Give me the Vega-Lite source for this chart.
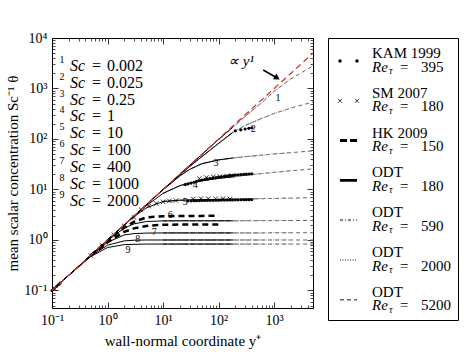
{
  "$schema": "https://vega.github.io/schema/vega-lite/v6.json",
  "background": "white",
  "padding": {"left": 5, "top": 30, "right": 5, "bottom": 5},
  "config": {
    "view": {"stroke": "black", "strokeWidth": 1},
    "font": "Liberation Serif"
  },
  "datasets": {
    "curves": [
      {"sc":1,"x":0.1,"y":0.1},{"sc":1,"x":0.2,"y":0.2},{"sc":1,"x":0.5,"y":0.5},{"sc":1,"x":1,"y":1},{"sc":1,"x":2,"y":2},{"sc":1,"x":3,"y":3},{"sc":1,"x":5,"y":5},{"sc":1,"x":10,"y":10},{"sc":1,"x":20,"y":20},{"sc":1,"x":30,"y":30},{"sc":1,"x":50,"y":49.5},{"sc":1,"x":100,"y":98},{"sc":1,"x":180,"y":172},{"sc":1,"x":300,"y":280},{"sc":1,"x":590,"y":520},{"sc":1,"x":1000,"y":880},{"sc":1,"x":2000,"y":1550},{"sc":1,"x":5000,"y":2800},
      {"sc":2,"x":0.1,"y":0.1},{"sc":2,"x":0.2,"y":0.2},{"sc":2,"x":0.5,"y":0.5},{"sc":2,"x":1,"y":1},{"sc":2,"x":2,"y":2},{"sc":2,"x":3,"y":3},{"sc":2,"x":5,"y":5},{"sc":2,"x":10,"y":10},{"sc":2,"x":20,"y":19.5},{"sc":2,"x":30,"y":28.5},{"sc":2,"x":50,"y":45},{"sc":2,"x":100,"y":82},{"sc":2,"x":180,"y":135},{"sc":2,"x":300,"y":185},{"sc":2,"x":590,"y":255},{"sc":2,"x":1000,"y":320},{"sc":2,"x":2000,"y":410},{"sc":2,"x":5000,"y":540},
      {"sc":3,"x":0.1,"y":0.1},{"sc":3,"x":0.2,"y":0.2},{"sc":3,"x":0.5,"y":0.5},{"sc":3,"x":1,"y":1},{"sc":3,"x":2,"y":2},{"sc":3,"x":3,"y":3},{"sc":3,"x":5,"y":4.99},{"sc":3,"x":10,"y":9.86},{"sc":3,"x":20,"y":18.6},{"sc":3,"x":30,"y":25},{"sc":3,"x":50,"y":32.4},{"sc":3,"x":100,"y":38.6},{"sc":3,"x":180,"y":42},{"sc":3,"x":300,"y":44.6},{"sc":3,"x":590,"y":47.8},{"sc":3,"x":1000,"y":50.4},{"sc":3,"x":2000,"y":53.7},{"sc":3,"x":5000,"y":58.1},
      {"sc":4,"x":0.1,"y":0.1},{"sc":4,"x":0.2,"y":0.2},{"sc":4,"x":0.5,"y":0.5},{"sc":4,"x":1,"y":1},{"sc":4,"x":2,"y":1.98},{"sc":4,"x":3,"y":2.94},{"sc":4,"x":5,"y":4.79},{"sc":4,"x":10,"y":8.39},{"sc":4,"x":20,"y":11.9},{"sc":4,"x":30,"y":13.4},{"sc":4,"x":50,"y":14.9},{"sc":4,"x":100,"y":16.6},{"sc":4,"x":180,"y":17.9},{"sc":4,"x":300,"y":19.1},{"sc":4,"x":590,"y":20.7},{"sc":4,"x":1000,"y":21.9},{"sc":4,"x":2000,"y":23.5},{"sc":4,"x":5000,"y":25.6},
      {"sc":5,"x":0.1,"y":0.1},{"sc":5,"x":0.2,"y":0.2},{"sc":5,"x":0.5,"y":0.5},{"sc":5,"x":1,"y":1},{"sc":5,"x":2,"y":1.98},{"sc":5,"x":3,"y":2.89},{"sc":5,"x":5,"y":4.34},{"sc":5,"x":10,"y":5.78},{"sc":5,"x":20,"y":6.14},{"sc":5,"x":30,"y":6.2},{"sc":5,"x":50,"y":6.25},{"sc":5,"x":100,"y":6.35},{"sc":5,"x":180,"y":6.42},{"sc":5,"x":300,"y":6.5},{"sc":5,"x":590,"y":6.58},{"sc":5,"x":1000,"y":6.65},{"sc":5,"x":2000,"y":6.75},{"sc":5,"x":5000,"y":6.9},
      {"sc":6,"x":0.1,"y":0.1},{"sc":6,"x":0.2,"y":0.2},{"sc":6,"x":0.5,"y":0.5},{"sc":6,"x":1,"y":0.98},{"sc":6,"x":2,"y":1.72},{"sc":6,"x":3,"y":2.09},{"sc":6,"x":5,"y":2.32},{"sc":6,"x":10,"y":2.39},{"sc":6,"x":20,"y":2.4},{"sc":6,"x":30,"y":2.4},{"sc":6,"x":50,"y":2.4},{"sc":6,"x":100,"y":2.4},{"sc":6,"x":180,"y":2.4},{"sc":6,"x":300,"y":2.41},{"sc":6,"x":590,"y":2.42},{"sc":6,"x":1000,"y":2.42},{"sc":6,"x":2000,"y":2.43},{"sc":6,"x":5000,"y":2.44},
      {"sc":7,"x":0.1,"y":0.1},{"sc":7,"x":0.2,"y":0.2},{"sc":7,"x":0.5,"y":0.49},{"sc":7,"x":1,"y":0.9},{"sc":7,"x":2,"y":1.26},{"sc":7,"x":3,"y":1.34},{"sc":7,"x":5,"y":1.37},{"sc":7,"x":10,"y":1.38},{"sc":7,"x":20,"y":1.38},{"sc":7,"x":30,"y":1.38},{"sc":7,"x":50,"y":1.38},{"sc":7,"x":100,"y":1.38},{"sc":7,"x":180,"y":1.38},{"sc":7,"x":300,"y":1.38},{"sc":7,"x":590,"y":1.38},{"sc":7,"x":1000,"y":1.39},{"sc":7,"x":2000,"y":1.39},{"sc":7,"x":5000,"y":1.39},
      {"sc":8,"x":0.1,"y":0.1},{"sc":8,"x":0.2,"y":0.2},{"sc":8,"x":0.5,"y":0.48},{"sc":8,"x":1,"y":0.79},{"sc":8,"x":2,"y":0.96},{"sc":8,"x":3,"y":0.99},{"sc":8,"x":5,"y":1},{"sc":8,"x":10,"y":1},{"sc":8,"x":20,"y":1},{"sc":8,"x":30,"y":1},{"sc":8,"x":50,"y":1},{"sc":8,"x":100,"y":1},{"sc":8,"x":180,"y":1},{"sc":8,"x":300,"y":1},{"sc":8,"x":590,"y":1},{"sc":8,"x":1000,"y":1},{"sc":8,"x":2000,"y":1},{"sc":8,"x":5000,"y":1},
      {"sc":9,"x":0.1,"y":0.1},{"sc":9,"x":0.2,"y":0.2},{"sc":9,"x":0.5,"y":0.47},{"sc":9,"x":1,"y":0.71},{"sc":9,"x":2,"y":0.81},{"sc":9,"x":3,"y":0.82},{"sc":9,"x":5,"y":0.83},{"sc":9,"x":10,"y":0.83},{"sc":9,"x":20,"y":0.83},{"sc":9,"x":30,"y":0.83},{"sc":9,"x":50,"y":0.83},{"sc":9,"x":100,"y":0.83},{"sc":9,"x":180,"y":0.83},{"sc":9,"x":300,"y":0.83},{"sc":9,"x":590,"y":0.83},{"sc":9,"x":1000,"y":0.83},{"sc":9,"x":2000,"y":0.83},{"sc":9,"x":5000,"y":0.83}
    ],
    "kam": [
      {"x":0.1,"y":0.1},{"x":0.11,"y":0.11},{"x":0.12,"y":0.12},{"x":0.13,"y":0.13},{"x":0.14,"y":0.14},
      {"x":200,"y":145},{"x":250,"y":152},{"x":300,"y":158},{"x":350,"y":163},{"x":395,"y":167},
      {"x":25,"y":12.5},{"x":28,"y":12.9},{"x":32,"y":13.4},{"x":36,"y":13.9},{"x":40,"y":14.5},{"x":45,"y":14.9},{"x":50,"y":15.4},{"x":56,"y":15.8},{"x":63,"y":16.2},{"x":71,"y":16.6},{"x":80,"y":17},{"x":90,"y":17.3},{"x":100,"y":17.6},{"x":112,"y":17.9},{"x":126,"y":18.2},{"x":141,"y":18.5},{"x":158,"y":18.8},{"x":178,"y":19.05},{"x":200,"y":19.3},{"x":224,"y":19.5},{"x":251,"y":19.7},{"x":282,"y":19.9},{"x":316,"y":20.1},{"x":355,"y":20.25},{"x":395,"y":20.4},
      {"x":28,"y":5.93},{"x":32,"y":5.96},{"x":36,"y":5.99},{"x":40,"y":6.01},{"x":45,"y":6.03},{"x":50,"y":6.05},{"x":56,"y":6.06},{"x":63,"y":6.08},{"x":71,"y":6.1},{"x":80,"y":6.11},{"x":90,"y":6.13},{"x":100,"y":6.14},{"x":112,"y":6.16},{"x":126,"y":6.17},{"x":141,"y":6.19},{"x":158,"y":6.2},{"x":178,"y":6.22},{"x":200,"y":6.23},{"x":224,"y":6.25},{"x":251,"y":6.26},{"x":282,"y":6.28},{"x":316,"y":6.29},{"x":355,"y":6.3},{"x":395,"y":6.31}
    ],
    "sm": [
      {"x":0.5,"y":0.49},{"x":0.8,"y":0.78},{"x":1.3,"y":1.26},{"x":2,"y":1.9},{"x":3,"y":2.8},
      {"x":4,"y":4.0},{"x":5.5,"y":4.7},{"x":7.5,"y":5.3},{"x":10,"y":5.7},{"x":13,"y":5.95},{"x":17,"y":6.05},
      {"x":35,"y":6.5},{"x":48,"y":6.6},{"x":65,"y":6.6},{"x":88,"y":6.55},{"x":120,"y":6.6},{"x":160,"y":6.5},
      {"x":45,"y":16.5},{"x":60,"y":17.3},{"x":80,"y":17.8},{"x":105,"y":18},{"x":140,"y":18.5},{"x":175,"y":18.8}
    ],
    "hk": [
      {"id":"a","x":0.5,"y":0.5},{"id":"a","x":1,"y":0.97},{"id":"a","x":2,"y":1.75},{"id":"a","x":3,"y":2.3},{"id":"a","x":5,"y":2.8},{"id":"a","x":10,"y":2.95},{"id":"a","x":20,"y":3.0},{"id":"a","x":50,"y":3.0},{"id":"a","x":100,"y":3.02},
      {"id":"b","x":0.5,"y":0.49},{"id":"b","x":1,"y":0.9},{"id":"b","x":2,"y":1.45},{"id":"b","x":3,"y":1.7},{"id":"b","x":5,"y":1.9},{"id":"b","x":10,"y":2.0},{"id":"b","x":20,"y":2.02},{"id":"b","x":50,"y":2.03},{"id":"b","x":100,"y":2.03}
    ],
    "ref": [{"x":0.1,"y":0.1},{"x":5000,"y":5000}],
    "arrow": [{"x":634,"y":2323},{"x":1132,"y":1615}],
    "arrowhead": [{"x":1132,"y":1615}],
    "propto": [{"x":148,"y":3510,"t":"∝ y¹"}],
    "sclab": [
      {"n":"1","v":"0.002","x":0.211,"y":2790},{"n":"2","v":"0.025","x":0.211,"y":1300},{"n":"3","v":"0.25","x":0.211,"y":603},{"n":"4","v":"1","x":0.211,"y":280},{"n":"5","v":"10","x":0.211,"y":130},{"n":"6","v":"100","x":0.211,"y":60.4},{"n":"7","v":"400","x":0.211,"y":28.1},{"n":"8","v":"1000","x":0.211,"y":13.0},{"n":"9","v":"2000","x":0.211,"y":6.05}
    ],
    "numlab": [
      {"t":"1","x":1175,"y":650},{"t":"2","x":420,"y":158},{"t":"3","x":90,"y":33.5},{"t":"4","x":37.8,"y":12.3},{"t":"5","x":24.9,"y":5.65},{"t":"6","x":13.4,"y":3.13},{"t":"7","x":6.9,"y":1.44},{"t":"8","x":3.5,"y":1.05},{"t":"9","x":2.34,"y":0.63}
    ],
    "legend": [
      {"k":0,"name":"KAM 1999","re":"395"},{"k":1,"name":"SM 2007","re":"180"},{"k":2,"name":"HK 2009","re":"150"},{"k":3,"name":"ODT","re":"180"},{"k":4,"name":"ODT","re":"590"},{"k":5,"name":"ODT","re":"2000"},{"k":6,"name":"ODT","re":"5200"}
    ]
  },
  "spacing": 10,
  "hconcat": [
    {
      "width": 261,
      "height": 270,
      "resolve": {"axis": {"x": "independent", "y": "independent"}},
      "layer": [
        {
          "encoding": {
            "x": {"field": "x", "type": "quantitative",
              "scale": {"type": "log", "domain": [0.1, 5000], "nice": false},
              "axis": {
                "orient": "bottom",
                "values": [0.1,1,10,100,1000],
                "labelExpr": "datum.value==0.1?'10⁻¹':datum.value==1?'10⁰':datum.value==10?'10¹':datum.value==100?'10²':'10³'",
                "tickSize": -6,
                "tickColor": "black", "tickWidth": 0.8, "domain": false, "grid": false,
                "labelFont": "Liberation Serif", "labelFontSize": 14, "labelColor": "black", "labelPadding": 11, "labelOverlap": false, "labelFlush": false,
                "title": "wall-normal coordinate y⁺", "titleFont": "Liberation Serif", "titleFontSize": 15, "titleFontWeight": "normal", "titleColor": "black", "titlePadding": 6
              }
            },
            "y": {"field": "y", "type": "quantitative",
              "scale": {"type": "log", "domain": [0.045, 10000], "nice": false},
              "axis": {
                "orient": "left",
                "values": [0.1,1,10,100,1000,10000],
                "labelExpr": "datum.value==0.1?'10⁻¹':datum.value==1?'10⁰':datum.value==10?'10¹':datum.value==100?'10²':datum.value==1000?'10³':'10⁴'",
                "tickSize": -6,
                "tickColor": "black", "tickWidth": 0.8, "domain": false, "grid": false,
                "labelFont": "Liberation Serif", "labelFontSize": 14, "labelColor": "black", "labelPadding": 11, "labelOverlap": false, "labelFlush": false,
                "title": "mean scalar concentration Sc⁻¹ θ", "titleFont": "Liberation Serif", "titleFontSize": 15, "titleFontWeight": "normal", "titleColor": "black", "titlePadding": 3
              }
            }
          },
          "layer": [
            {"data": {"name": "curves"}, "transform": [{"filter": "datum.x >= 10"}],
             "mark": {"type": "line", "stroke": "#666666", "strokeDash": [4, 3], "strokeWidth": 1},
             "encoding": {"detail": {"field": "sc", "type": "nominal"}}},
            {"data": {"name": "curves"}, "transform": [{"filter": "datum.x >= 10 && datum.x <= 2000"}],
             "mark": {"type": "line", "stroke": "#888888", "strokeDash": [1, 1.5], "strokeWidth": 1},
             "encoding": {"detail": {"field": "sc", "type": "nominal"}}},
            {"data": {"name": "curves"}, "transform": [{"filter": "datum.x >= 10 && datum.x <= 590"}],
             "mark": {"type": "line", "stroke": "#888888", "strokeDash": [4, 2, 1, 2], "strokeWidth": 1},
             "encoding": {"detail": {"field": "sc", "type": "nominal"}}},
            {"data": {"name": "curves"}, "transform": [{"filter": "datum.x <= 180"}],
             "mark": {"type": "line", "stroke": "black", "strokeWidth": 1},
             "encoding": {"detail": {"field": "sc", "type": "nominal"}}},
            {"data": {"name": "hk"},
             "mark": {"type": "line", "stroke": "black", "strokeDash": [6, 4], "strokeWidth": 2.5},
             "encoding": {"detail": {"field": "id", "type": "nominal"}}},
            {"data": {"name": "kam"},
             "mark": {"type": "point", "shape": "circle", "filled": true, "size": 10, "color": "black", "opacity": 1}},
            {"data": {"name": "sm"},
             "mark": {"type": "point", "shape": "M-1,-1L1,1M-1,1L1,-1", "filled": false, "size": 20, "stroke": "black", "strokeWidth": 0.8, "opacity": 1}},
            {"data": {"name": "ref"},
             "mark": {"type": "line", "stroke": "#d9302c", "strokeDash": [6, 4], "strokeWidth": 1.3}},
            {"data": {"name": "arrow"},
             "mark": {"type": "line", "stroke": "black", "strokeWidth": 1.5}},
            {"data": {"name": "arrowhead"},
             "mark": {"type": "point", "shape": "triangle-right", "filled": true, "size": 45, "color": "black", "opacity": 1, "angle": 31}},
            {"data": {"name": "propto"},
             "mark": {"type": "text", "align": "left", "baseline": "middle", "fontSize": 15, "fontStyle": "italic", "font": "Liberation Serif"},
             "encoding": {"text": {"field": "t"}}},
            {"data": {"name": "sclab"},
             "mark": {"type": "text", "align": "center", "baseline": "middle", "fontSize": 10, "dx": -8, "dy": -6, "font": "Liberation Serif"},
             "encoding": {"text": {"field": "n"}}},
            {"data": {"name": "sclab"},
             "mark": {"type": "text", "align": "left", "baseline": "middle", "fontSize": 16, "fontStyle": "italic", "font": "Liberation Serif"},
             "encoding": {"text": {"value": "Sc"}}},
            {"data": {"name": "sclab"},
             "mark": {"type": "text", "align": "left", "baseline": "middle", "fontSize": 16, "dx": 22, "font": "Liberation Serif"},
             "encoding": {"text": {"value": "="}}},
            {"data": {"name": "sclab"},
             "mark": {"type": "text", "align": "left", "baseline": "middle", "fontSize": 16, "dx": 37, "font": "Liberation Serif"},
             "encoding": {"text": {"field": "v"}}},
            {"data": {"name": "numlab"},
             "mark": {"type": "text", "align": "center", "baseline": "middle", "fontSize": 10, "font": "Liberation Serif"},
             "encoding": {"text": {"field": "t"}}}
          ]
        },
        {
          "data": {"name": "ref"},
          "mark": {"type": "point", "opacity": 0},
          "encoding": {
            "x": {"field": "x", "type": "quantitative",
              "scale": {"type": "log", "domain": [0.1, 5000], "nice": false},
              "axis": {"orient": "top", "labels": false, "title": null, "domain": false, "grid": false,
                "values": [0.1,1,10,100,1000], "tickSize": -6, "tickColor": "black", "tickWidth": 0.8, "minExtent": 0}
            },
            "y": {"field": "y", "type": "quantitative",
              "scale": {"type": "log", "domain": [0.045, 10000], "nice": false},
              "axis": {"orient": "right", "labels": false, "title": null, "domain": false, "grid": false,
                "values": [0.1,1,10,100,1000,10000], "tickSize": -6, "tickColor": "black", "tickWidth": 0.8, "minExtent": 0}
            }
          }
        },
        {
          "data": {"name": "ref"},
          "mark": {"type": "point", "opacity": 0},
          "encoding": {
            "x": {"field": "x", "type": "quantitative",
              "scale": {"type": "log", "domain": [0.1, 5000], "nice": false},
              "axis": {"orient": "bottom", "labels": false, "title": null, "domain": false, "grid": false,
                "values": [0.2,0.3,0.4,0.5,0.6,0.7,0.8,0.9,2,3,4,5,6,7,8,9,20,30,40,50,60,70,80,90,200,300,400,500,600,700,800,900,2000,3000,4000,5000],
                "tickSize": -3, "tickColor": "black", "tickWidth": 0.7, "minExtent": 0, "offset": 0}
            },
            "y": {"field": "y", "type": "quantitative",
              "scale": {"type": "log", "domain": [0.045, 10000], "nice": false},
              "axis": {"orient": "left", "labels": false, "title": null, "domain": false, "grid": false,
                "values": [0.05,0.06,0.07,0.08,0.09,0.2,0.3,0.4,0.5,0.6,0.7,0.8,0.9,2,3,4,5,6,7,8,9,20,30,40,50,60,70,80,90,200,300,400,500,600,700,800,900,2000,3000,4000,5000,6000,7000,8000,9000],
                "tickSize": -3, "tickColor": "black", "tickWidth": 0.7, "minExtent": 0, "offset": 0}
            }
          }
        },
        {
          "data": {"name": "ref"},
          "mark": {"type": "point", "opacity": 0},
          "encoding": {
            "x": {"field": "x", "type": "quantitative",
              "scale": {"type": "log", "domain": [0.1, 5000], "nice": false},
              "axis": {"orient": "top", "labels": false, "title": null, "domain": false, "grid": false,
                "values": [0.2,0.3,0.4,0.5,0.6,0.7,0.8,0.9,2,3,4,5,6,7,8,9,20,30,40,50,60,70,80,90,200,300,400,500,600,700,800,900,2000,3000,4000,5000],
                "tickSize": -3, "tickColor": "black", "tickWidth": 0.7, "minExtent": 0, "offset": 0}
            },
            "y": {"field": "y", "type": "quantitative",
              "scale": {"type": "log", "domain": [0.045, 10000], "nice": false},
              "axis": {"orient": "right", "labels": false, "title": null, "domain": false, "grid": false,
                "values": [0.05,0.06,0.07,0.08,0.09,0.2,0.3,0.4,0.5,0.6,0.7,0.8,0.9,2,3,4,5,6,7,8,9,20,30,40,50,60,70,80,90,200,300,400,500,600,700,800,900,2000,3000,4000,5000,6000,7000,8000,9000],
                "tickSize": -3, "tickColor": "black", "tickWidth": 0.7, "minExtent": 0, "offset": 0}
            }
          }
        }
      ]
    },
    {
      "width": 130,
      "height": 282,
      "data": {"name": "legend"},
      "encoding": {
        "y": {"field": "k", "type": "quantitative", "scale": {"domain": [-0.377, 6.708], "reverse": true, "nice": false, "zero": false}, "axis": null}
      },
      "layer": [
        {"transform": [{"filter": "datum.k >= 2"}],
         "mark": {"type": "rule", "yOffset": 8},
         "encoding": {
           "x": {"value": 12}, "x2": {"value": 29},
           "strokeDash": {"field": "k", "type": "ordinal", "scale": {"domain": [2,3,4,5,6], "range": [[7,3],[1,0],[3,2,1,2],[1,1.5],[4,3]]}, "legend": null},
           "color": {"field": "k", "type": "ordinal", "scale": {"domain": [2,3,4,5,6], "range": ["black","black","#888888","#888888","#666666"]}, "legend": null},
           "strokeWidth": {"field": "k", "type": "ordinal", "scale": {"domain": [2,3,4,5,6], "range": [3,1.5,1,1,1]}, "legend": null}
         }},
        {"transform": [{"filter": "datum.k == 0"}],
         "mark": {"type": "point", "shape": "circle", "filled": true, "size": 12, "color": "black", "opacity": 1, "yOffset": 8},
         "encoding": {"x": {"value": 12}}},
        {"transform": [{"filter": "datum.k == 0"}],
         "mark": {"type": "point", "shape": "circle", "filled": true, "size": 12, "color": "black", "opacity": 1, "yOffset": 8},
         "encoding": {"x": {"value": 29}}},
        {"transform": [{"filter": "datum.k == 1"}],
         "mark": {"type": "point", "shape": "M-1,-1L1,1M-1,1L1,-1", "filled": false, "size": 16, "stroke": "black", "strokeWidth": 0.8, "opacity": 1, "yOffset": 8},
         "encoding": {"x": {"value": 12}}},
        {"transform": [{"filter": "datum.k == 1"}],
         "mark": {"type": "point", "shape": "M-1,-1L1,1M-1,1L1,-1", "filled": false, "size": 16, "stroke": "black", "strokeWidth": 0.8, "opacity": 1, "yOffset": 8},
         "encoding": {"x": {"value": 29}}},
        {"mark": {"type": "text", "align": "left", "baseline": "middle", "fontSize": 15, "font": "Liberation Serif"},
         "encoding": {"x": {"value": 44}, "text": {"field": "name"}}},
        {"mark": {"type": "text", "align": "left", "baseline": "middle", "fontSize": 15, "fontStyle": "italic", "dy": 13.5, "font": "Liberation Serif"},
         "encoding": {"x": {"value": 44}, "text": {"value": "Re"}}},
        {"mark": {"type": "text", "align": "left", "baseline": "middle", "fontSize": 10, "fontStyle": "italic", "dx": 17, "dy": 18, "font": "Liberation Serif"},
         "encoding": {"x": {"value": 44}, "text": {"value": "τ"}}},
        {"mark": {"type": "text", "align": "left", "baseline": "middle", "fontSize": 15, "dx": 28, "dy": 13.5, "font": "Liberation Serif"},
         "encoding": {"x": {"value": 44}, "text": {"value": "="}}},
        {"mark": {"type": "text", "align": "left", "baseline": "middle", "fontSize": 15, "dx": 49, "dy": 13.5, "font": "Liberation Serif"},
         "encoding": {"x": {"value": 44}, "text": {"field": "re"}}}
      ]
    }
  ]
}
